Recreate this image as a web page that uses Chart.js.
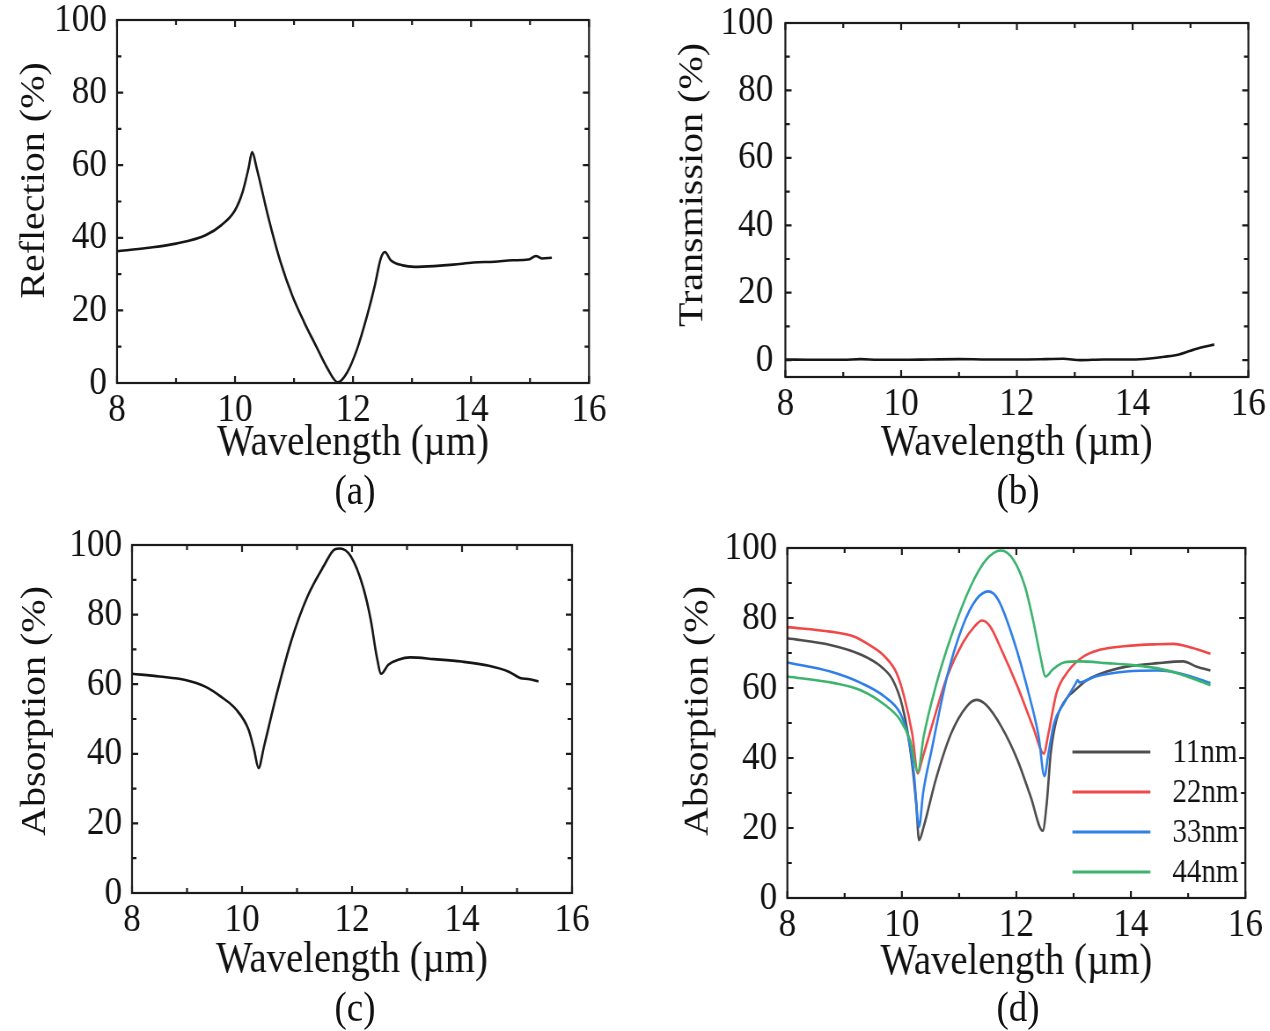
<!DOCTYPE html>
<html>
<head>
<meta charset="utf-8">
<script src="https://cdn.jsdelivr.net/npm/chart.js@4.4.1/dist/chart.umd.min.js"></script>
<style>
html, body { margin: 0; padding: 0; background: #ffffff; overflow: hidden; }
#wrap { position: relative; width: 1270px; height: 1031px; transform-origin: 0 0; }
#wrap canvas { position: absolute; }
.cap { position: absolute; font-family: "Liberation Serif", "Times New Roman", serif; color: #111111;
       transform: translate(-50%, -50%); white-space: nowrap; line-height: 1; }
</style>
</head>
<body>
<div id="wrap">
  <canvas id="pa"></canvas>
  <canvas id="pb"></canvas>
  <canvas id="pc"></canvas>
  <canvas id="pd"></canvas>
  <div class="cap" id="capa">(a)</div>
  <div class="cap" id="capb">(b)</div>
  <div class="cap" id="capc">(c)</div>
  <div class="cap" id="capd">(d)</div>
</div>
<script>
// ---------------- DATA ----------------
const xTickValues = [8, 10, 12, 14, 16];
const yTickValues = [0, 20, 40, 60, 80, 100];
const xAxisTitle = 'Wavelength (µm)';

// (a) Reflection
const wlA = [8.0, 8.5, 9.0, 9.5, 9.77, 10.0, 10.13, 10.23, 10.29, 10.37, 10.57, 10.77, 10.97, 11.17, 11.37, 11.57, 11.74, 11.9, 12.07, 12.24, 12.37, 12.47, 12.54, 12.64, 12.84, 13.04, 13.37, 13.7, 14.04, 14.4, 14.7, 14.97, 15.1, 15.2, 15.37];
const reflection = [36.3, 37.2, 38.4, 40.7, 43.5, 47.6, 52.7, 59.2, 63.6, 59.0, 45.3, 33.4, 24.1, 16.8, 10.3, 3.9, 0.2, 2.9, 9.4, 18.6, 26.9, 34.3, 36.1, 33.8, 32.4, 32.0, 32.2, 32.6, 33.2, 33.4, 33.8, 34.0, 35.0, 34.3, 34.5];

// (b) Transmission
const wlB = [8.0, 8.5, 9.0, 9.3, 9.6, 10.0, 10.5, 11.0, 11.5, 12.0, 12.5, 12.8, 13.1, 13.5, 14.0, 14.3, 14.55, 14.8, 15.0, 15.2, 15.41];
const transmission = [0.2, 0.1, 0.1, 0.3, 0.1, 0.1, 0.2, 0.3, 0.2, 0.2, 0.3, 0.4, 0.0, 0.2, 0.2, 0.5, 1.0, 1.7, 2.8, 3.8, 4.6];

// (c) Absorption
const wlC = [8.0, 8.5, 8.97, 9.33, 9.61, 9.9, 10.12, 10.22, 10.3, 10.4, 10.62, 10.9, 11.19, 11.48, 11.69, 11.78, 11.98, 12.2, 12.34, 12.45, 12.53, 12.66, 12.84, 13.06, 13.49, 13.99, 14.49, 14.85, 15.07, 15.2, 15.39];
const absorption = [63.0, 62.2, 61.2, 59.3, 56.5, 52.6, 46.9, 41.1, 35.9, 42.1, 56.5, 72.7, 85.2, 93.8, 98.8, 99.0, 96.7, 88.0, 78.5, 67.9, 63.0, 65.6, 67.0, 67.7, 67.2, 66.5, 65.3, 63.6, 61.7, 61.5, 60.8];

// (d) Absorption vs thickness
const seriesNames = ['11nm', '22nm', '33nm', '44nm'];
const wl11 = [8.0, 8.75, 9.29, 9.63, 9.84, 10.01, 10.14, 10.25, 10.3, 10.38, 10.59, 10.86, 11.13, 11.3, 11.47, 11.74, 12.02, 12.25, 12.46, 12.53, 12.6, 12.7, 12.9, 13.0, 13.24, 13.58, 13.92, 14.47, 14.91, 15.15, 15.39];
const abs11 = [74.2, 72.3, 69.5, 66.2, 62.3, 54.7, 43.2, 27.0, 16.5, 20.3, 33.7, 47.0, 54.7, 56.6, 55.2, 48.9, 39.4, 28.9, 19.2, 27.0, 41.3, 50.9, 57.5, 59.0, 62.3, 64.7, 66.1, 67.1, 67.6, 66.1, 65.0];
const wl22 = [8.0, 8.75, 9.16, 9.43, 9.7, 9.91, 10.04, 10.18, 10.28, 10.35, 10.52, 10.79, 11.06, 11.27, 11.4, 11.54, 11.74, 12.02, 12.29, 12.48, 12.56, 12.7, 12.9, 13.17, 13.45, 13.92, 14.47, 14.74, 15.08, 15.39];
const abs22 = [77.4, 76.1, 74.7, 72.3, 69.0, 64.2, 57.5, 47.0, 35.6, 39.4, 48.9, 63.3, 72.8, 77.6, 79.3, 77.6, 70.9, 60.4, 48.9, 41.3, 47.0, 58.5, 64.7, 69.0, 70.9, 72.0, 72.5, 72.6, 71.4, 69.8];
const wl33 = [8.0, 8.75, 9.29, 9.7, 9.97, 10.11, 10.21, 10.3, 10.37, 10.52, 10.79, 11.06, 11.3, 11.51, 11.68, 11.95, 12.23, 12.39, 12.49, 12.56, 12.66, 12.83, 13.04, 13.07, 13.1, 13.38, 13.92, 14.47, 14.88, 15.39];
const abs33 = [67.3, 64.7, 61.4, 57.5, 52.8, 46.1, 35.6, 20.3, 29.9, 42.3, 63.3, 77.6, 85.3, 87.6, 85.3, 73.8, 57.5, 46.1, 34.8, 41.3, 50.0, 55.6, 61.4, 62.3, 61.6, 63.3, 64.7, 65.0, 64.1, 61.4];
const wl44 = [8.0, 8.82, 9.29, 9.7, 9.97, 10.14, 10.28, 10.38, 10.59, 10.86, 11.2, 11.47, 11.73, 11.95, 12.15, 12.29, 12.42, 12.51, 12.63, 12.83, 13.1, 13.58, 13.99, 14.47, 14.81, 15.15, 15.39];
const abs44 = [63.3, 61.4, 59.3, 55.2, 50.9, 45.2, 36.1, 46.1, 60.4, 74.7, 89.0, 96.6, 99.3, 96.6, 89.0, 79.5, 69.0, 63.3, 65.2, 67.3, 67.6, 67.1, 66.6, 65.6, 64.2, 62.3, 60.8];

// ---------------- STYLE / LAYOUT ----------------
const SX = 0.88;                      // horizontal compression of the whole figure (as in the source image)
const FONT = '"Liberation Serif", "Times New Roman", serif';
const FS_TICK = 40, FS_XTITLE = 44, FS_YTITLE = 40, FS_LEG = 33, FS_CAP = 42;
const TEXT = '#111111';
const COLORS = { black: '#161616', gray: '#4e4e4e', red: '#f04848', blue: '#2f7fe8', green: '#3cb46e' };

document.getElementById('wrap').style.width = (1270 / SX) + 'px';
document.getElementById('wrap').style.transform = 'scaleX(' + SX + ')';

const toXY = (xs, ys) => xs.map((x, i) => ({ x: x, y: ys[i] }));

// Frame + inward major/minor ticks on all four sides, positioned through the scales
const frameTicks = {
  id: 'frameTicks',
  afterDatasetsDraw(chart) {
    const { ctx, chartArea: a, scales: { x, y } } = chart;
    ctx.save();
    ctx.strokeStyle = '#1a1a1a';
    ctx.lineWidth = 2.2;
    ctx.strokeRect(a.left, a.top, a.right - a.left, a.bottom - a.top);
    ctx.beginPath();
    for (let v = 8; v <= 16.0001; v += 1) {
      const px = x.getPixelForValue(v);
      const len = (v % 2 === 0) ? 7 : 5;
      ctx.moveTo(px, a.bottom); ctx.lineTo(px, a.bottom - len);
      ctx.moveTo(px, a.top); ctx.lineTo(px, a.top + len);
    }
    for (let v = 0; v <= 100.0001; v += 10) {
      const py = y.getPixelForValue(v);
      const len = (v % 20 === 0) ? 7 : 5;
      ctx.moveTo(a.left, py); ctx.lineTo(a.left + len, py);
      ctx.moveTo(a.right, py); ctx.lineTo(a.right - len, py);
    }
    ctx.stroke();
    ctx.restore();
  }
};

// Rotated y-axis title, placed beside the y scale
const yTitle = {
  id: 'yTitle',
  afterDraw(chart, args, opts) {
    if (!opts || !opts.text) return;
    const { ctx, chartArea: a } = chart;
    ctx.save();
    ctx.font = FS_YTITLE + 'px ' + FONT;
    ctx.fillStyle = TEXT;
    ctx.textAlign = 'center';
    ctx.textBaseline = 'middle';
    ctx.translate(opts.x, (a.top + a.bottom) / 2 + opts.dy);
    ctx.rotate(-Math.PI / 2);
    ctx.fillText(opts.text, 0, 0);
    ctx.restore();
  }
};

// Legend drawn inside the plot area (panel d)
const insideLegend = {
  id: 'insideLegend',
  afterDatasetsDraw(chart, args, opts) {
    if (!opts || !opts.display) return;
    const { ctx, chartArea: a } = chart;
    const ds = chart.data.datasets;
    ctx.save();
    ctx.font = FS_LEG + 'px ' + FONT;
    ctx.textBaseline = 'middle';
    ctx.textAlign = 'left';
    ds.forEach((d, i) => {
      const yy = a.bottom - opts.bottomOffset - (ds.length - 1 - i) * opts.rowGap;
      ctx.strokeStyle = d.borderColor;
      ctx.lineWidth = 3;
      ctx.beginPath();
      ctx.moveTo(a.right - opts.lineStart, yy);
      ctx.lineTo(a.right - opts.lineEnd, yy);
      ctx.stroke();
      ctx.fillStyle = TEXT;
      ctx.fillText(d.label, a.right - opts.textStart, yy + 1);
    });
    ctx.restore();
  }
};

function makePanel(id, cfg) {
  const [ox, oy, cw, ch] = cfg.quad;
  const canvas = document.getElementById(id);
  const W = Math.round(cw / SX), H = ch;
  canvas.width = W; canvas.height = H;
  canvas.style.width = W + 'px'; canvas.style.height = H + 'px';
  canvas.style.left = (ox / SX) + 'px';
  canvas.style.top = oy + 'px';
  const lx = px => (px - ox) / SX;
  const ly = py => py - oy;
  const b = cfg.box;
  const half = 0.6 * FS_XTITLE;
  const padLeft = 0;
  const yW = lx(b.l) - padLeft;
  const padTop = ly(b.t);
  const padRight = W - lx(b.r);
  const scaleBottom = ly(cfg.xTitleY) + half;
  const xH = scaleBottom - ly(b.b);
  const padBottom = H - scaleBottom;

  return new Chart(canvas, {
    type: 'line',
    data: { datasets: cfg.datasets },
    options: {
      responsive: false,
      animation: false,
      devicePixelRatio: 1,
      events: [],
      layout: { autoPadding: false, padding: { left: padLeft, top: padTop, right: padRight, bottom: padBottom } },
      plugins: {
        legend: { display: false },
        tooltip: { enabled: false },
        insideLegend: cfg.legend || { display: false },
        yTitle: { text: cfg.yTitle, x: lx(cfg.yTitleX), dy: cfg.yTitleDy }
      },
      elements: {
        point: { radius: 0 },
        line: { borderWidth: 2.6, cubicInterpolationMode: 'monotone' }
      },
      scales: {
        x: {
          type: 'linear', min: 8, max: 16,
          grid: { display: false, drawTicks: false },
          border: { display: false },
          afterBuildTicks: sc => { sc.ticks = xTickValues.map(v => ({ value: v })); },
          afterFit: sc => { sc.height = xH; sc.paddingLeft = 0; sc.paddingRight = 0; },
          ticks: { font: { family: FONT, size: FS_TICK }, color: TEXT, padding: 3, maxRotation: 0, autoSkip: false },
          title: { display: true, text: xAxisTitle, font: { family: FONT, size: FS_XTITLE }, color: TEXT, padding: 0 }
        },
        y: {
          type: 'linear', min: cfg.yMin, max: 100,
          grid: { display: false, drawTicks: false },
          border: { display: false },
          afterBuildTicks: sc => { sc.ticks = yTickValues.map(v => ({ value: v })); },
          afterFit: sc => { sc.width = yW; sc.paddingTop = 0; sc.paddingBottom = 0; },
          ticks: { font: { family: FONT, size: FS_TICK }, color: TEXT, padding: cfg.yPad / SX, autoSkip: false },
          title: { display: false }
        }
      }
    },
    plugins: [frameTicks, insideLegend, yTitle]
  });
}

makePanel('pa', {
  quad: [0, 0, 635, 515], box: { l: 117, t: 20, r: 589, b: 383 }, yTitleX: 35, yTitleDy: -21, xTitleY: 443, yMin: 0, yPad: 10,
  yTitle: 'Reflection (%)',
  datasets: [{ label: 'Reflection', data: toXY(wlA, reflection), borderColor: COLORS.black }]
});
makePanel('pb', {
  quad: [635, 0, 635, 515], box: { l: 785, t: 23, r: 1248, b: 377 }, yTitleX: 693, yTitleDy: -15, xTitleY: 443, yMin: -5, yPad: 12,
  yTitle: 'Transmission (%)',
  datasets: [{ label: 'Transmission', data: toXY(wlB, transmission), borderColor: COLORS.black }]
});
makePanel('pc', {
  quad: [0, 515, 635, 516], box: { l: 132, t: 545, r: 572, b: 893 }, yTitleX: 36, yTitleDy: -8, xTitleY: 960, yMin: 0, yPad: 10,
  yTitle: 'Absorption (%)',
  datasets: [{ label: 'Absorption', data: toXY(wlC, absorption), borderColor: COLORS.black }]
});
makePanel('pd', {
  quad: [635, 515, 635, 516], box: { l: 787, t: 548, r: 1245, b: 898 }, yTitleX: 698, yTitleDy: -12, xTitleY: 962, yMin: 0, yPad: 10,
  yTitle: 'Absorption (%)',
  legend: { display: true, bottomOffset: 26, rowGap: 40, lineStart: 173 / SX, lineEnd: 95 / SX, textStart: 73 / SX },
  datasets: [
    { label: seriesNames[0], data: toXY(wl11, abs11), borderColor: COLORS.gray, order: 4 },
    { label: seriesNames[1], data: toXY(wl22, abs22), borderColor: COLORS.red, order: 3 },
    { label: seriesNames[2], data: toXY(wl33, abs33), borderColor: COLORS.blue, order: 2 },
    { label: seriesNames[3], data: toXY(wl44, abs44), borderColor: COLORS.green, order: 1 }
  ]
});

// sub-figure captions
const caps = [['capa', 355, 490], ['capb', 1018, 490], ['capc', 355, 1007], ['capd', 1018, 1007]];
caps.forEach(([id, x, y]) => {
  const el = document.getElementById(id);
  el.style.left = (x / SX) + 'px';
  el.style.top = y + 'px';
  el.style.fontSize = FS_CAP + 'px';
});
</script>
</body>
</html>
